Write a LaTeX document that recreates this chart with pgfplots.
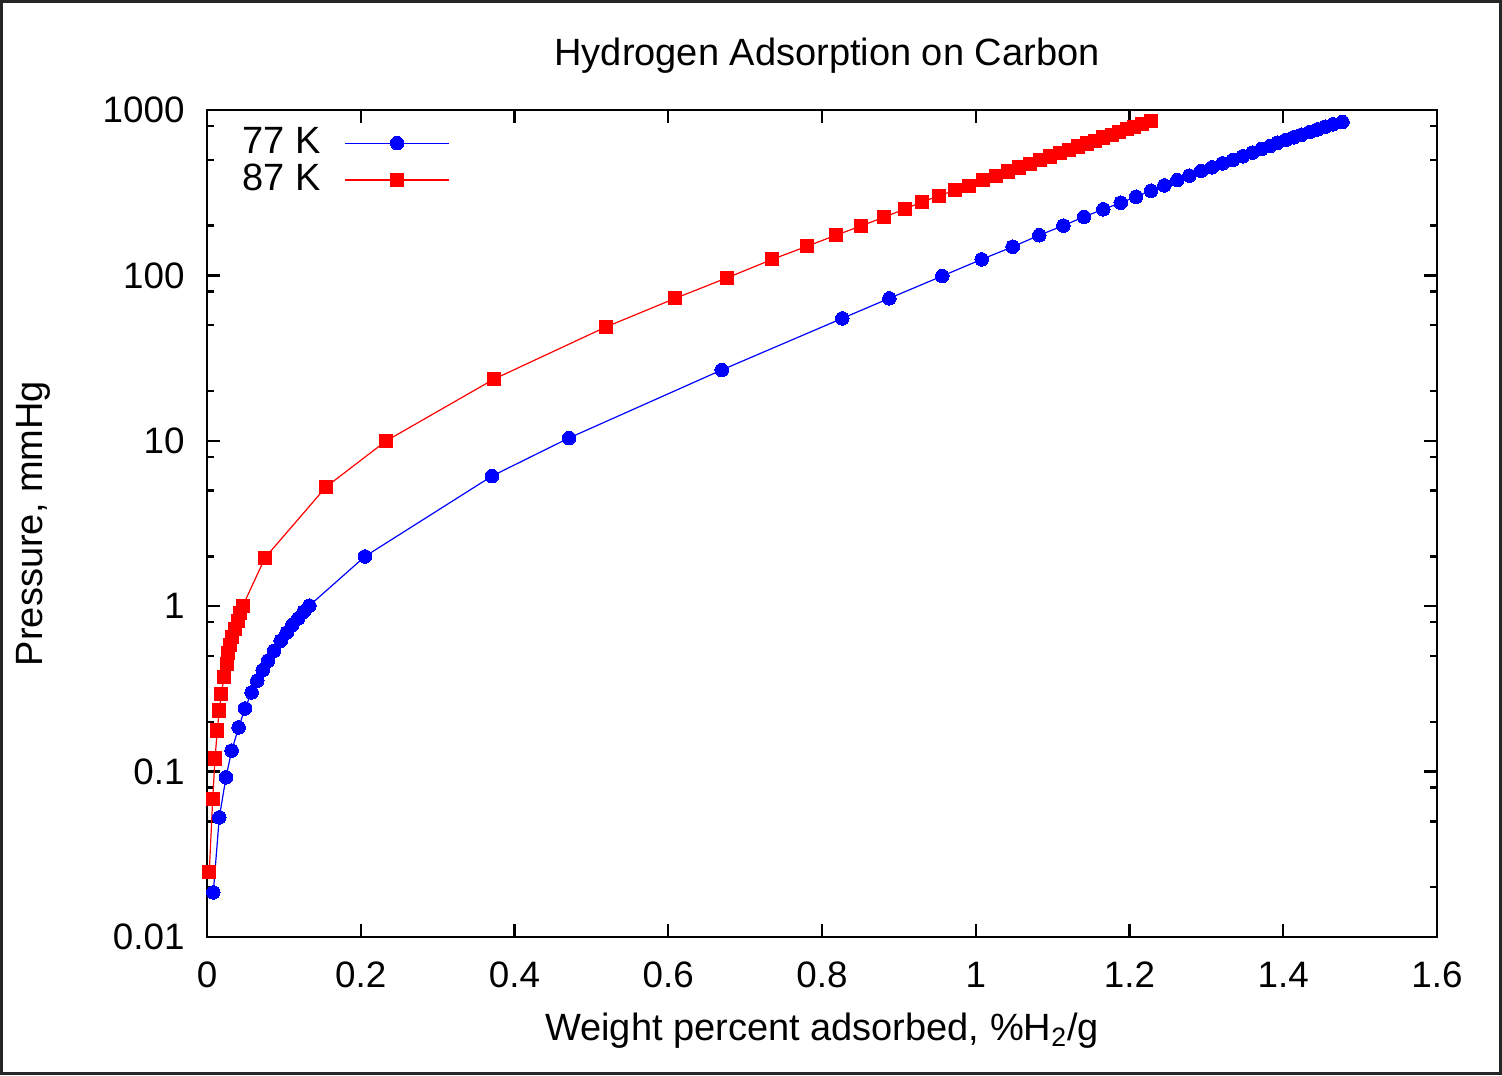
\documentclass[border=0pt]{standalone}
\usepackage{fontspec}
\setmainfont{Liberation Sans}
\usepackage{pgfplots}
\pgfplotsset{compat=1.18}
\begin{document}
\fontsize{18}{21.6}\selectfont
\begin{tikzpicture}
\begin{axis}[
  name=ax,
  scale only axis, width=615pt, height=413.5pt,
  ymode=log, xmin=0, xmax=1.6, ymin=0.01, ymax=1000,
  xtick={0,0.2,0.4,0.6,0.8,1,1.2,1.4,1.6},
  xticklabels={0,0.2,0.4,0.6,0.8,1,1.2,1.4,1.6},
  ytick={0.01,0.1,1,10,100,1000},
  yticklabels={0.01,0.1,1,10,100,1000},
  minor ytick={0.02,0.05,0.08,0.2,0.5,0.8,2,5,8,20,50,80,200,500,800},
  tick align=inside,
  major tick length=6.5pt, minor tick length=3.5pt,
  every tick/.style={black, line width=1.2pt},
  axis line style={line width=1.4pt},
  /pgf/number format/assume math mode=true,
  tick label style={font=\fontsize{18.4}{22}\selectfont},
  xticklabel style={anchor=base, yshift=-25pt},
  yticklabel style={xshift=-5pt},
  title={Hydrogen Adsorption on Carbon},
  title style={at={(axis description cs:0.5,1)}, anchor=base, yshift=16pt, xshift=2.5pt, font=\fontsize{19}{22.8}\selectfont},
  xlabel={Weight percent adsorbed, \%H\textsubscript{2}/g},
  xlabel style={at={(axis description cs:0.5,0)}, anchor=base, yshift=-51.5pt, font=\fontsize{19}{22.8}\selectfont},
  ylabel={Pressure, mmHg},
  ylabel style={at={(axis description cs:-0.1415,0.5)}, anchor=center, font=\fontsize{19}{22.8}\selectfont},
  legend plot pos=right,
  legend cell align=right,
  legend style={draw=none, fill=none, at={(axis description cs:0,1)}, anchor=north west, xshift=12.5pt, yshift=-4.5pt, column sep=10pt, row sep=-1.5pt, font=\fontsize{19}{22.8}\selectfont},
  legend image code/.code={\draw[mark repeat=2,mark phase=2,#1] plot coordinates {(0pt,0pt) (26pt,0pt) (52pt,0pt)};},
]
\addplot[color=blue, line width=0.6pt, mark=*, mark size=3.4pt, mark options={fill=blue, draw=blue, line width=0pt}] coordinates {
(0.0082,0.0186) (0.0160,0.0529) (0.0247,0.0924) (0.0321,0.134) (0.0412,0.185)
(0.0494,0.241) (0.0581,0.301) (0.0654,0.355) (0.0725,0.411) (0.0793,0.468)
(0.0872,0.538) (0.0959,0.618) (0.1037,0.692) (0.1110,0.770) (0.1188,0.845)
(0.1258,0.926) (0.1331,1.007) (0.2055,2.00) (0.3707,6.12) (0.4709,10.4)
(0.6695,26.8) (0.8264,55.0) (0.8876,72.7) (0.9565,99.2) (1.0077,125)
(1.0481,149) (1.0827,175) (1.1139,200) (1.1408,226) (1.1659,251)
(1.1886,275) (1.2085,299) (1.2280,325) (1.2453,350) (1.2622,377)
(1.2778,401) (1.2930,428) (1.3073,450) (1.3210,476) (1.3343,498)
(1.3473,525) (1.3600,553) (1.3717,581) (1.3828,606) (1.3925,634)
(1.4032,659) (1.4136,684) (1.4240,709) (1.4344,736) (1.4446,764)
(1.4543,792) (1.4647,819) (1.4770,846)
};
\addlegendentry{77 K}
\addplot[color=red, line width=0.6pt, mark=square*, mark size=3.3pt, mark options={fill=red, draw=red, line width=0pt}] coordinates {
(0.0030,0.0248) (0.0074,0.068) (0.0104,0.120) (0.0134,0.177) (0.0160,0.234)
(0.0186,0.293) (0.0221,0.372) (0.0256,0.447) (0.0269,0.52) (0.0299,0.58)
(0.0329,0.65) (0.0364,0.73) (0.0399,0.81) (0.0429,0.91) (0.0464,1.00)
(0.0754,1.96) (0.1548,5.26) (0.2328,9.97) (0.3733,23.6) (0.5190,48.8)
(0.6092,72.7) (0.6768,96.8) (0.7353,125) (0.7805,150) (0.8182,175)
(0.8507,199) (0.8807,225) (0.9080,252) (0.9300,278) (0.9520,302)
(0.9730,328) (0.9916,349) (1.0098,377) (1.0263,401) (1.0416,425)
(1.0559,449) (1.0706,474) (1.0836,498) (1.0966,524) (1.1096,550)
(1.1217,575) (1.1334,602) (1.1443,627) (1.1551,653) (1.1659,681)
(1.1769,710) (1.1867,737) (1.1963,764) (1.2059,793) (1.2159,823)
(1.2280,860)
};
\addlegendentry{87 K}
\end{axis}
\draw[line width=1.5pt, black!85] ([shift={(-102.75pt,-68.25pt)}]ax.south west) rectangle ([shift={(31.75pt,54.25pt)}]ax.north east);
\end{tikzpicture}
\end{document}
